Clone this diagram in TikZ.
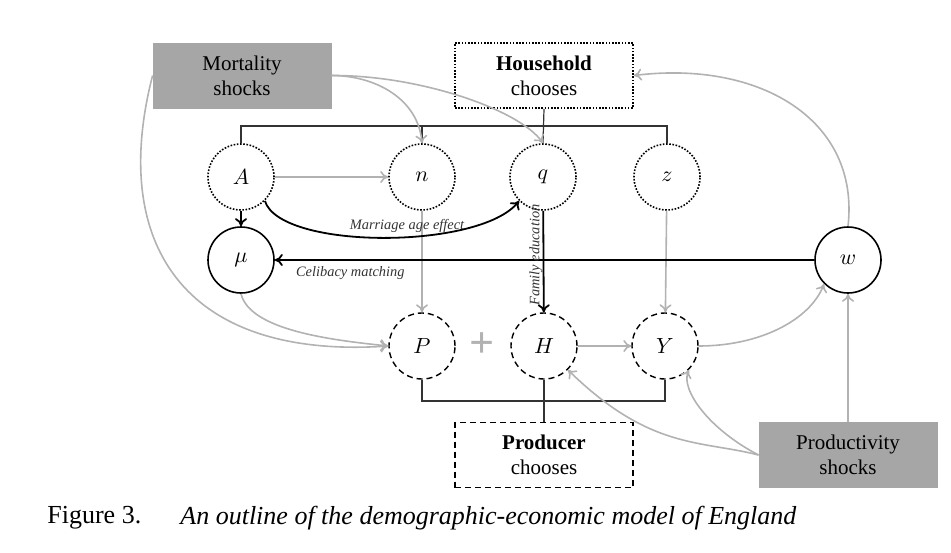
\documentclass[tikz,border=0pt]{standalone}
\usepackage{fontspec}
\setmainfont{Liberation Serif}
\usetikzlibrary{arrows.meta}
\begin{document}
\begin{tikzpicture}[x=0.5pt,y=-0.5pt,
  box/.style={draw,minimum width=89pt,minimum height=32.5pt,align=center,font=\fontsize{10.5}{12.5}\selectfont,inner sep=0pt},
  shock/.style={box,fill=black!35,draw=black!35},
  var/.style={circle,minimum size=33pt,inner sep=0pt,font=\fontsize{11}{12}\selectfont,line width=0.6pt},
  hh/.style={var,draw,dash pattern=on 0.8pt off 0.8pt,line width=0.8pt},
  pr/.style={var,draw,dash pattern=on 3pt off 2pt,line width=0.7pt},
  sol/.style={var,draw,line width=0.8pt},
  ga/.style={draw=black!30,line width=0.8pt,-{To[length=4pt,width=6pt]}},
  ba/.style={draw=black,line width=0.9pt,-{To[length=4pt,width=6pt]}},
  br/.style={draw=black!80,line width=0.6pt},
  lab/.style={font=\fontsize{7.2}{8}\selectfont\itshape,text=black!80,inner sep=1pt}]
\useasboundingbox (0,0) rectangle (951,552);
\node[shock] (mort) at (242,75.5) {Mortality\\shocks};
\node[box,dash pattern=on 0.8pt off 0.8pt,line width=0.8pt] (hh) at (544,75.5) {\textbf{Household}\\chooses};
\node[box,dash pattern=on 3pt off 2pt,line width=0.7pt] (prod) at (544,455) {\textbf{Producer}\\chooses};
\node[shock] (psh) at (848,455) {Productivity\\shocks};
\node[hh] (A) at (241,177) {$A$};
\node[hh] (n) at (422,177) {$n$};
\node[hh] (q) at (543,177) {$q$};
\node[hh] (z) at (667,177) {$z$};
\node[sol] (mu) at (241,260) {$\mu$};
\node[sol] (w) at (848,260) {$w$};
\node[pr] (P) at (422,346) {$P$};
\node[pr] (H) at (544,346) {$H$};
\node[pr] (Y) at (665,346) {$Y$};
\node[text=black!30,font=\fontsize{22}{22}\selectfont\bfseries] (plus) at (482,345) {+};
% brackets
\coordinate (t1) at (241,126); \coordinate (t2) at (667,126);
\draw[br] (A.north) -- (t1) -- (t2) -- (z.north);
\draw[br] (n.north) -- (422,126);
\draw[br] (hh.south) -- (q.north);
\coordinate (b1) at (422,401); \coordinate (b2) at (665,401);
\draw[br] (P.south) -- (b1) -- (b2) -- (Y.south);
\draw[br] (prod.north) -- (H.south);
% gray arrows
\draw[ga] (mort.east) to[out=0,in=95] (n.north);
\draw[ga] (mort.east) .. controls (420,75) and (520,110) .. (q.north);
\draw[ga] (mort.west) .. controls (110,240) and (180,360) .. (P.west);
\draw[ga] (A) -- (n);
\draw[ga] (n) -- (P);
\draw[ga] (z) -- (Y);
\draw[ga] (mu.south) .. controls (250,330) and (330,340) .. (P.west);
\draw[ga] (H) -- (Y);
\draw[ga] (Y.east) .. controls (760,346) and (810,320) .. (w.south west);
\draw[ga] (w.north) .. controls (860,120) and (760,60) .. (hh.east);
\draw[ga] (psh.north) -- (w.south);
\draw[ga] (psh.west) .. controls (700,440) and (650,450) .. (H.south east);
\draw[ga] (psh.west) .. controls (710,430) and (680,390) .. (Y.south east);
% black arrows
\draw[ba] (A) -- (mu);
\draw[ba] (A.south east) .. controls (280,250) and (480,250) .. node[lab,pos=0.5,above=1pt,xshift=12pt] {Marriage age effect} (q.south west);
\draw[ba] (w.west) -- node[lab,pos=0.86,below=2pt] {Celibacy matching} (mu.east);
\draw[ba] (q) -- (H);
\node[lab,rotate=90] (fe) at (536,255) {Family education};
% caption
\node[anchor=west,font=\fontsize{13}{15}\selectfont,inner sep=0] (cap1) at (47,518) {Figure 3.};
\node[anchor=west,font=\fontsize{13}{15}\selectfont\itshape,inner sep=0] (cap2) at (180,518) {An outline of the demographic-economic model of England};
\end{tikzpicture}
\end{document}
